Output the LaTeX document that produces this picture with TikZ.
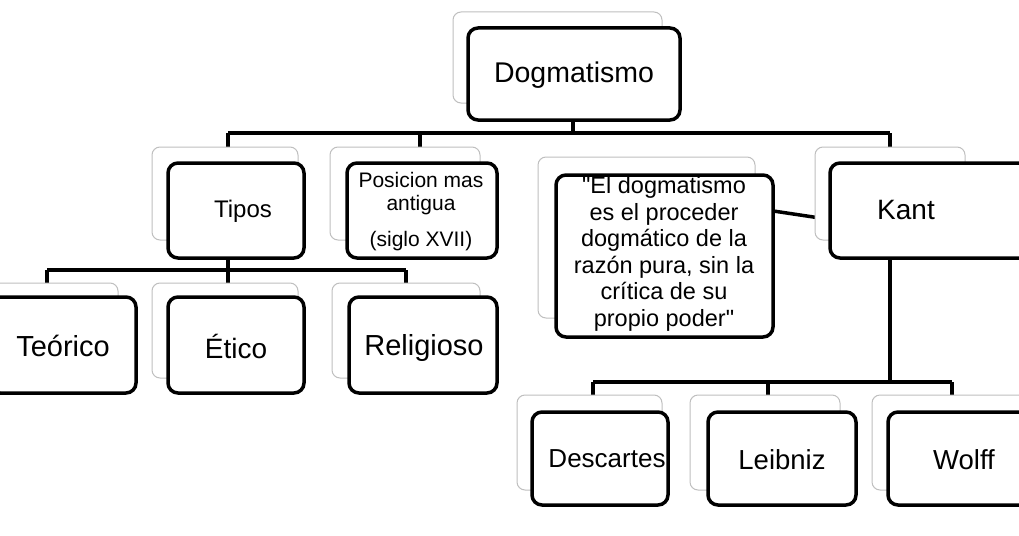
\documentclass[tikz,border=0pt]{standalone}
\usepackage{fontspec}
\setmainfont{Liberation Sans}
\newfontfamily\qf{Liberation Sans}
\begin{document}
\begin{tikzpicture}[x=1pt,y=-1pt,
  shad/.style={draw=black!25,line width=1pt,fill=white,rounded corners=8pt},
  mainbox/.style={draw=black,line width=3.5pt,fill=white,rounded corners=10pt,align=center},
  conn/.style={draw=black,line width=3.5pt}]
\useasboundingbox (0,0) rectangle (1019,535);
\newcommand{\bx}[9]{%
  \draw[shad] (#6,#7) rectangle (#8,#9);
  \node[mainbox,minimum width=#4pt-#2pt,minimum height=#5pt-#3pt,inner sep=0pt] (#1) at ({(#2+#4)/2},{(#3+#5)/2}) {};}
\coordinate (h1l) at (228,133); \coordinate (h1r) at (890,133);
\coordinate (h1m) at (573,133); \coordinate (h1p) at (420,133);
\coordinate (h2l) at (47,270); \coordinate (h2m) at (228,270); \coordinate (h2r) at (406,270);
\coordinate (h3l) at (593,382); \coordinate (h3m) at (768,382); \coordinate (h3r) at (952,382); \coordinate (h3k) at (890,382);
\draw[conn] (573,74) -- (h1m);
\draw[conn] (h1l) -- (h1r);
\draw[conn] (h1l) -- (228,200); \draw[conn] (h1p) -- (420,200);
\draw[conn] (h1r) -- (h3k);
\draw[conn] (h3l) -- (h3r);
\draw[conn] (h3l) -- (593,450); \draw[conn] (h3m) -- (768,450); \draw[conn] (h3r) -- (952,450);
\draw[conn] (228,210) -- (h2m);
\draw[conn] (h2l) -- (h2r);
\draw[conn] (h2l) -- (47,340); \draw[conn] (h2m) -- (228,340); \draw[conn] (h2r) -- (406,340);
\draw[conn] (700,200) -- (900,230);
\bx{dog}{468}{28}{680}{120}{453}{12}{662}{103}
\bx{tip}{168}{163}{304}{258}{152}{147}{298}{240}
\bx{pos}{347}{163}{497}{258}{330}{147}{480}{240}
\bx{quo}{556}{175}{773}{337}{538}{157}{755}{318}
\bx{kan}{830}{163}{1030}{258}{815}{147}{965}{240}
\bx{teo}{-10}{297}{136}{393}{-10}{283}{118}{378}
\bx{eti}{168}{297}{304}{393}{152}{283}{298}{378}
\bx{rel}{349}{297}{497}{393}{332}{283}{480}{378}
\bx{des}{532}{412}{668}{505}{517}{395}{662}{490}
\bx{lei}{708}{412}{856}{505}{690}{395}{840}{490}
\bx{wol}{888}{412}{1030}{505}{872}{395}{1030}{490}
\node[font=\fontsize{28.5}{32}\selectfont] at (574,75) {Dogmatismo};
\node[font=\fontsize{24}{28}\selectfont] at (243,211) {Tipos};
\node[font=\fontsize{21}{23}\selectfont,align=center] at (421,194) {Posicion mas\\antigua};
\node[font=\fontsize{21}{23}\selectfont] at (421,241) {(siglo XVII)};
\node[font=\fontsize{23.5}{26.5}\selectfont\qf,align=center] at (664,254) {"El dogmatismo\\es el proceder\\dogmático de la\\razón pura, sin la\\crítica de su\\propio poder"};
\node[font=\fontsize{28}{32}\selectfont] at (906,210) {Kant};
\node[font=\fontsize{29}{33}\selectfont] at (63,346) {Teórico};
\node[font=\fontsize{28}{32}\selectfont] at (236,346) {Ético};
\node[font=\fontsize{29}{33}\selectfont] at (424,348) {Religioso};
\node[font=\fontsize{26}{30}\selectfont] at (607,459) {Descartes};
\node[font=\fontsize{27.5}{31}\selectfont] at (782,460) {Leibniz};
\node[font=\fontsize{27.5}{31}\selectfont] at (964,460) {Wolff};
\end{tikzpicture}
\end{document}
